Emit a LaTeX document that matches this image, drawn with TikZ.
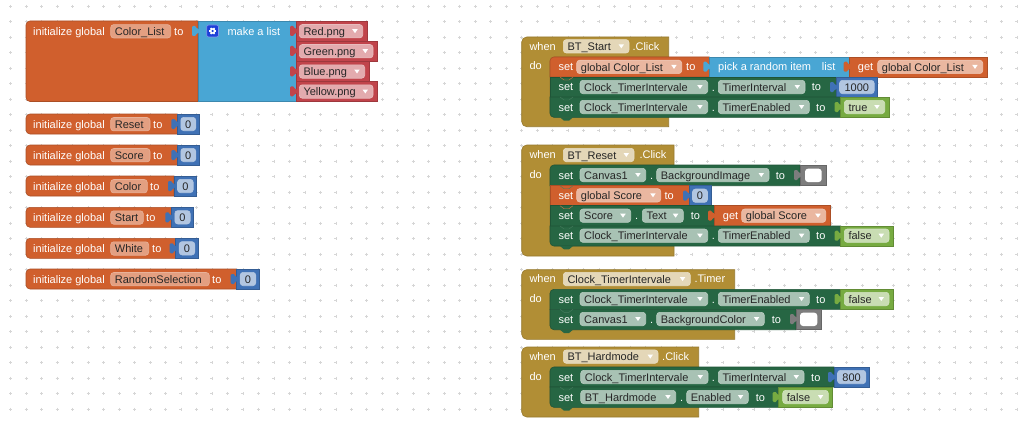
\documentclass[tikz,border=0pt]{standalone}
\usepackage{fontspec}
\setmainfont{Liberation Sans}
\definecolor{orangeb}{HTML}{D05F2D}
\definecolor{listb}{HTML}{49A6D4}
\definecolor{redb}{HTML}{C1444B}
\definecolor{mathb}{HTML}{3F71B5}
\definecolor{setb}{HTML}{266643}
\definecolor{whenb}{HTML}{B18E35}
\definecolor{boolb}{HTML}{77AB41}
\definecolor{grayb}{HTML}{7D7D7D}
\definecolor{gearb}{HTML}{1C3FD8}
% block with its own corner radii
\newcommand{\blk}[7]{\filldraw[draw=#1!82!black, fill=#1, line width=.6pt] (#4,#3) [rounded corners=#6] -- (#2,#3) [rounded corners=#7] -- (#2,#5) [sharp corners] -- (#4,#5) -- cycle;}
\newcommand{\lbl}[4]{\node[lbl] (#1) at (#2,#3) {#4};}
% field: fill, x1, x2, y, name, text
\newcommand{\fldn}[6]{\draw[fldbox, fill=#1, draw=#1!80!white] (#2,#4-6.7) rectangle (#3,#4+6.7);
	\node[fldtxt] (#5) at (#2+4,#4) {#6};}
\newcommand{\fld}[6]{\fldn{#1}{#2}{#3}{#4}{#5}{#6}
	\fill[white] (#3-10.5,#4-2) -- (#3-5,#4-2) -- (#3-7.7,#4+2) -- cycle;}
\newcommand{\tabin}[3]{\fill[#1, rounded corners=1.2] ({#2+1},{#3-2.5}) -- ({#2-2},{#3-2.5}) -- ({#2-2},{#3-5}) -- ({#2-6},{#3-5}) -- ({#2-6},{#3+5}) -- ({#2-2},{#3+5}) -- ({#2-2},{#3+2.5}) -- ({#2+1},{#3+2.5}) -- cycle;}
% value block: colour, field colour, x1, x2, y1, y2, name, text
\newcommand{\valblk}[8]{\blk{#1}{#3}{#5}{#4}{#6}{0}{0}\tabin{#1}{#3}{(#5+#6)/2}
	\draw[fldbox, fill=#2, draw=#2] ({#3+3.5},{(#5+#6)/2-6.7}) rectangle ({#4-3.5},{(#5+#6)/2+6.7});
	\node[fldtxt, anchor=center] (#7) at ({(#3+#4)/2},{(#5+#6)/2}) {#8};}
% when block: x2, y0, y1, y2, y3
\newcommand{\whenblk}[5]{\filldraw[draw=whenb!85!black, fill=whenb, line width=.6pt] (#1,#2) [rounded corners=5] -- (521.7,#2) -- (521.7,#5) [sharp corners] -- (#1,#5) -- (#1,#4) -- (554,#4) [rounded corners=4] -- (550,#4) -- (550,#3) [sharp corners] -- (#1,#3) -- cycle;}
\newcommand{\notch}[2]{\fill[#1] (560,#2) -- (564,#2+3.4) -- (569,#2+3.4) -- (573,#2) -- cycle;}
\newcommand{\seam}[2]{\draw[#1!85!white, line width=.4pt] (560,#2) -- (564,#2+3) -- (569,#2+3) -- (573,#2);}
\begin{document}
\begin{tikzpicture}[x=1pt, y=-1pt, font=\fontsize{11}{13}\selectfont,
	lbl/.style={anchor=west, inner sep=0, white, text height=9, text depth=.5},
	fldtxt/.style={anchor=west, inner sep=0, black!85, text height=9, text depth=.5},
	fldbox/.style={rounded corners=3, line width=.6pt}]
	\useasboundingbox (0,0) rectangle (1024,420);
	\fill[white] (0,0) rectangle (1024,420);
	% workspace dots
	\foreach \i in {0,...,65} \foreach \j in {0,...,26}
		\draw[black!16, line width=.5pt] (10.7+15.48*\i-1.5,6.2+15.5*\j) -- ++(3,0) (10.7+15.48*\i,6.2+15.5*\j-1.5) -- ++(0,3);

	% Color_List with its list
	\blk{orangeb}{26}{21}{198}{101.5}{4}{4}
	\lbl{iniC}{33}{31}{initialize global}
	\fldn{orangeb!60!white}{110.7}{170.7}{31.3}{nameC}{Color\_List}
	\lbl{toC}{174}{31}{to}
	\blk{listb}{198}{21}{296}{101.5}{0}{0}
	\tabin{listb}{198}{31}
	\filldraw[fill=gearb, draw=gearb!55!white, line width=.6pt, rounded corners=2] (206.7,25) rectangle (218.5,37);
	\foreach \a in {0,60,...,300}
		\draw[white, line width=1.4pt] (212.6,31) -- ++(\a:3.6);
	\fill[white] (212.6,31) circle (2.8);
	\fill[gearb] (212.6,31) circle (1.2);
	\lbl{mkl}{227.3}{31}{make a list}
	\foreach \pn/\ty/\xr/\xf [count=\k] in {Red/21/367.7/362.7, Green/41/377.7/373, Blue/61.3/369/364.7, Yellow/81.3/377.7/373}{
		\blk{redb}{296}{\ty}{\xr}{\ty+20.2}{0}{0}
		\tabin{redb}{296}{\ty+10}
		\fld{redb!45!white}{299.3}{\xf}{\ty+10.2}{png\k}{\pn.png}
	}

	% the other globals
	\foreach \nm/\ty/\xf/\xt/\xv/\xe in {Reset/114/150/153/177.3/199.3, Score/145/150/153/177.3/199.3, Color/176/147.3/150/174/196.7, Start/207.3/143.3/146/171.3/193.7, White/238.3/148.7/152/175.7/198.3, RandomSelection/269/209.3/212/236.7/259.3}{
		\blk{orangeb}{26}{\ty}{\xv}{\ty+20}{4}{4}
		\lbl{ini\nm}{33}{\ty+10}{initialize global}
		\fldn{orangeb!60!white}{110.7}{\xf}{\ty+10.2}{name\nm}{\nm}
		\lbl{to\nm}{\xt}{\ty+10}{to}
		\valblk{mathb}{mathb!40!white}{\xv}{\xe}{\ty}{\ty+20}{val\nm}{0}
	}

	% BT_Start
	\whenblk{668.7}{37}{57}{117.3}{126.7}
	\lbl{wh1}{529.3}{46}{when}
	\fld{whenb!35!white}{563.3}{629}{46.3}{bt1}{BT\_Start}
	\lbl{clk1}{632.3}{46}{.Click}
	\lbl{do1}{529.3}{65.7}{do}
	\blk{orangeb}{550}{57}{709.3}{77}{4}{0}
	\lbl{s11}{558.3}{66.7}{set}
	\fld{orangeb!45!white}{576.7}{681.7}{66.9}{g11}{global Color\_List}
	\lbl{t11}{686}{66.7}{to}
	\blk{listb}{709.3}{57}{849.7}{77}{0}{0}
	\tabin{listb}{709.3}{66.7}
	\lbl{pick}{718}{66.7}{pick a random item}
	\lbl{lst}{821.7}{66.7}{list}
	\blk{orangeb}{849.7}{57}{987.3}{77}{0}{0}
	\tabin{orangeb}{849.7}{66.7}
	\lbl{get1}{857.7}{66.7}{get}
	\fld{orangeb!45!white}{877.7}{982.7}{66.9}{g12}{global Color\_List}
	\blk{setb}{550}{77}{836}{97}{0}{0}
	\seam{orangeb}{77}
	\lbl{s12}{558.3}{86.7}{set}
	\fld{setb!40!white}{580}{707.7}{87}{c12}{Clock\_TimerIntervale}
	\lbl{d12}{711.7}{87}{.}
	\fld{setb!40!white}{718.3}{805}{87}{p12}{TimerInterval}
	\lbl{t12}{811.7}{86.7}{to}
	\valblk{mathb}{mathb!40!white}{836}{877.7}{77}{97}{num1}{1000}
	\blk{setb}{550}{97}{840.7}{117.3}{0}{4}
	\seam{setb}{97}
	\lbl{s13}{558.3}{107}{set}
	\fld{setb!40!white}{580}{707.7}{107}{c13}{Clock\_TimerIntervale}
	\lbl{d13}{711.7}{107}{.}
	\fld{setb!40!white}{718.3}{809.3}{107}{p13}{TimerEnabled}
	\lbl{t13}{816}{107}{to}
	\blk{boolb}{840.7}{97}{889.3}{117.3}{0}{0}
	\tabin{boolb}{840.7}{107}
	\fld{boolb!40!white}{844.3}{884.7}{107}{b13}{true}
	\notch{setb}{117.3}

	% BT_Reset
	\whenblk{674}{145}{165}{246}{256}
	\lbl{wh2}{529.3}{154.7}{when}
	\fld{whenb!35!white}{563.3}{634}{155}{bt2}{BT\_Reset}
	\lbl{clk2}{639.3}{154.7}{.Click}
	\lbl{do2}{529.3}{174.3}{do}
	\blk{setb}{550}{165}{800}{185.7}{4}{0}
	\lbl{s21}{558.3}{175}{set}
	\fld{setb!40!white}{580}{645.7}{175}{c21}{Canvas1}
	\lbl{d21}{650}{175}{.}
	\fld{setb!40!white}{656.7}{769}{175}{p21}{BackgroundImage}
	\lbl{t21}{775.7}{175}{to}
	\blk{grayb}{800}{165}{826}{185.7}{0}{0}
	\tabin{grayb}{800}{175}
	\fill[white, rounded corners=3] (805,168.7) rectangle (821.7,182);
	\blk{orangeb}{550}{185.7}{689}{205.7}{0}{0}
	\seam{setb}{185.7}
	\lbl{s22}{558.3}{195.3}{set}
	\fld{orangeb!45!white}{576.7}{660.7}{195.3}{g22}{global Score}
	\lbl{t22}{664.3}{195.3}{to}
	\valblk{mathb}{mathb!40!white}{689}{711}{185.7}{205.7}{num2}{0}
	\blk{setb}{550}{205.7}{714}{226}{0}{0}
	\seam{orangeb}{205.7}
	\lbl{s23}{558.3}{215.7}{set}
	\fld{setb!40!white}{580}{630.7}{215.7}{c23}{Score}
	\lbl{d23}{635}{215.7}{.}
	\fld{setb!40!white}{642.3}{683.3}{215.7}{p23}{Text}
	\lbl{t23}{690.7}{215.7}{to}
	\blk{orangeb}{714}{205.7}{830}{226}{0}{0}
	\tabin{orangeb}{714}{215.7}
	\lbl{get2}{722.7}{215.7}{get}
	\fld{orangeb!45!white}{741.7}{825.7}{215.7}{g23}{global Score}
	\blk{setb}{550}{226}{840.7}{246}{0}{4}
	\seam{setb}{226}
	\lbl{s24}{558.3}{235.7}{set}
	\fld{setb!40!white}{580}{707.7}{235.7}{c24}{Clock\_TimerIntervale}
	\lbl{d24}{711.7}{235.7}{.}
	\fld{setb!40!white}{718.3}{809.3}{235.7}{p24}{TimerEnabled}
	\lbl{t24}{816}{235.7}{to}
	\blk{boolb}{840.7}{226}{893.3}{246}{0}{0}
	\tabin{boolb}{840.7}{235.7}
	\fld{boolb!40!white}{844.3}{889}{235.7}{b24}{false}
	\notch{setb}{246}

	% Clock_TimerIntervale
	\whenblk{734.7}{269.7}{289.3}{329.7}{339.3}
	\lbl{wh3}{529.3}{278.7}{when}
	\fld{whenb!35!white}{563.3}{690.3}{279}{bt3}{Clock\_TimerIntervale}
	\lbl{clk3}{694.3}{278.7}{.Timer}
	\lbl{do3}{529.3}{298.7}{do}
	\blk{setb}{550}{289.3}{840.7}{309.3}{4}{0}
	\lbl{s31}{558.3}{299}{set}
	\fld{setb!40!white}{580}{707.7}{299}{c31}{Clock\_TimerIntervale}
	\lbl{d31}{711.7}{299}{.}
	\fld{setb!40!white}{718.3}{809.3}{299}{p31}{TimerEnabled}
	\lbl{t31}{816}{299}{to}
	\blk{boolb}{840.7}{289.3}{893.3}{309.3}{0}{0}
	\tabin{boolb}{840.7}{299}
	\fld{boolb!40!white}{844.3}{889}{299}{b31}{false}
	\blk{setb}{550}{309.3}{796}{329.7}{0}{4}
	\seam{setb}{309.3}
	\lbl{s32}{558.3}{319}{set}
	\fld{setb!40!white}{580}{645.7}{319}{c32}{Canvas1}
	\lbl{d32}{650}{319}{.}
	\fld{setb!40!white}{656.7}{764.3}{319}{p32}{BackgroundColor}
	\lbl{t32}{771.7}{319}{to}
	\blk{grayb}{796}{309.3}{821.7}{329.7}{0}{0}
	\tabin{grayb}{796}{319}
	\fill[white, rounded corners=3] (800,312.7) rectangle (817.3,326);
	\notch{setb}{329.7}

	% BT_Hardmode
	\whenblk{698.7}{347}{367}{407.3}{417}
	\lbl{wh4}{529.3}{356.3}{when}
	\fld{whenb!35!white}{563.3}{658}{356.6}{bt4}{BT\_Hardmode}
	\lbl{clk4}{662}{356.3}{.Click}
	\lbl{do4}{529.3}{376}{do}
	\blk{setb}{550}{367}{834}{387}{4}{0}
	\lbl{s41}{558.3}{377}{set}
	\fld{setb!40!white}{580.7}{708}{377}{c41}{Clock\_TimerIntervale}
	\lbl{d41}{711.7}{377}{.}
	\fld{setb!40!white}{718.3}{804}{377}{p41}{TimerInterval}
	\lbl{t41}{811}{377}{to}
	\valblk{mathb}{mathb!40!white}{834}{869.3}{367}{387}{num4}{800}
	\blk{setb}{550}{387}{778.7}{407.3}{0}{4}
	\seam{setb}{387}
	\lbl{s42}{558.3}{397}{set}
	\fld{setb!40!white}{580.7}{675.7}{397}{c42}{BT\_Hardmode}
	\lbl{d42}{680}{397}{.}
	\fld{setb!40!white}{686.7}{748.3}{397}{p42}{Enabled}
	\lbl{t42}{755.7}{397}{to}
	\blk{boolb}{778.7}{387}{832.7}{407.3}{0}{0}
	\tabin{boolb}{778.7}{397}
	\fld{boolb!40!white}{782.7}{828.3}{397}{b42}{false}
	\notch{setb}{407.3}
\end{tikzpicture}
\end{document}
